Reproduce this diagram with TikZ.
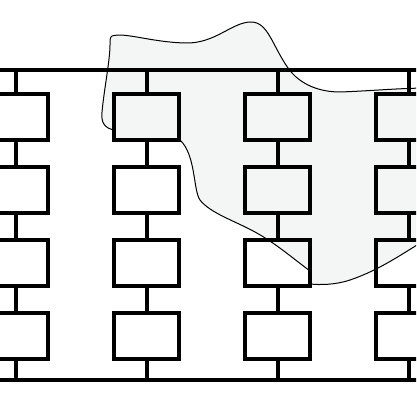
\documentclass[tikz,border=0pt]{standalone}
\usepackage{amsmath}
\usepackage{xcolor}
\usepackage{tikz}

\tikzset{
  cell/.style={draw, line width=3pt, minimum width=48.75pt, minimum height=34.5pt, inner sep=0pt},
  wire/.style={line width=3pt},
  bus/.style={line width=2.5pt}
}

\begin{document}
\begin{tikzpicture}[x=0.75pt,y=0.75pt,yscale=-1,xscale=1]
\useasboundingbox (0,0) rectangle (416,416);
\clip (0,0) rectangle (416,416);

%the shaded region
\draw [line width=0.75pt] [fill={rgb, 255:red, 244; green, 245; blue, 245 }  ,fill opacity=1 ]
 (112,36) .. controls (125,32) and (150,42) .. (185,43) .. controls (215,44) and (232,22) .. (251,22) .. controls (268,22) and (272,45) .. (288,68) .. controls (300,85) and (320,92) .. (340,92) .. controls (370,91) and (400,88) .. (430,88) -- (430,237) .. controls (405,252) and (380,270) .. (350,280) .. controls (335,285) and (320,285) .. (310,284) -- (310,271) .. controls (290,256) and (275,243) .. (255,232) .. controls (235,221) and (210,213) .. (200,200) .. controls (193,190) and (196,155) .. (180,140) -- (114,140) -- (114,130) .. controls (104,128) and (101,122) .. (102,112) .. controls (104,90) and (110,60) .. (110,45) .. controls (110,40) and (110,37) .. (112,36) -- cycle ;

%top and bottom lines
\coordinate (tl) at (-5,70);
\coordinate (tr) at (421,70);
\coordinate (bl) at (-5,380);
\coordinate (br) at (421,380);
\draw [bus] (tl) -- (tr);
\draw [bus] (bl) -- (br);

\coordinate (t1) at (15.5,70);
\coordinate (t2) at (146.5,70);
\coordinate (t3) at (277.5,70);
\coordinate (t4) at (408.5,70);
\coordinate (u1) at (15.5,380);
\coordinate (u2) at (146.5,380);
\coordinate (u3) at (277.5,380);
\coordinate (u4) at (408.5,380);

%boxes
\node [cell] (b11) at (15.5,117.5) {};
\node [cell] (b12) at (15.5,190.2) {};
\node [cell] (b13) at (15.5,262.9) {};
\node [cell] (b14) at (15.5,335.6) {};

\node [cell] (b21) at (146.5,117.5) {};
\node [cell] (b22) at (146.5,190.2) {};
\node [cell] (b23) at (146.5,262.9) {};
\node [cell] (b24) at (146.5,335.6) {};

\node [cell] (b31) at (277.5,117.5) {};
\node [cell] (b32) at (277.5,190.2) {};
\node [cell] (b33) at (277.5,262.9) {};
\node [cell] (b34) at (277.5,335.6) {};

\node [cell] (b41) at (408.5,117.5) {};
\node [cell] (b42) at (408.5,190.2) {};
\node [cell] (b43) at (408.5,262.9) {};
\node [cell] (b44) at (408.5,335.6) {};

%links
\draw [wire] (t1) -- (b11) (b11) -- (b12) (b12) -- (b13) (b13) -- (b14) (b14) -- (u1);
\draw [wire] (t2) -- (b21) (b21) -- (b22) (b22) -- (b23) (b23) -- (b24) (b24) -- (u2);
\draw [wire] (t3) -- (b31) (b31) -- (b32) (b32) -- (b33) (b33) -- (b34) (b34) -- (u3);
\draw [wire] (t4) -- (b41) (b41) -- (b42) (b42) -- (b43) (b43) -- (b44) (b44) -- (u4);
\end{tikzpicture}
\end{document}
